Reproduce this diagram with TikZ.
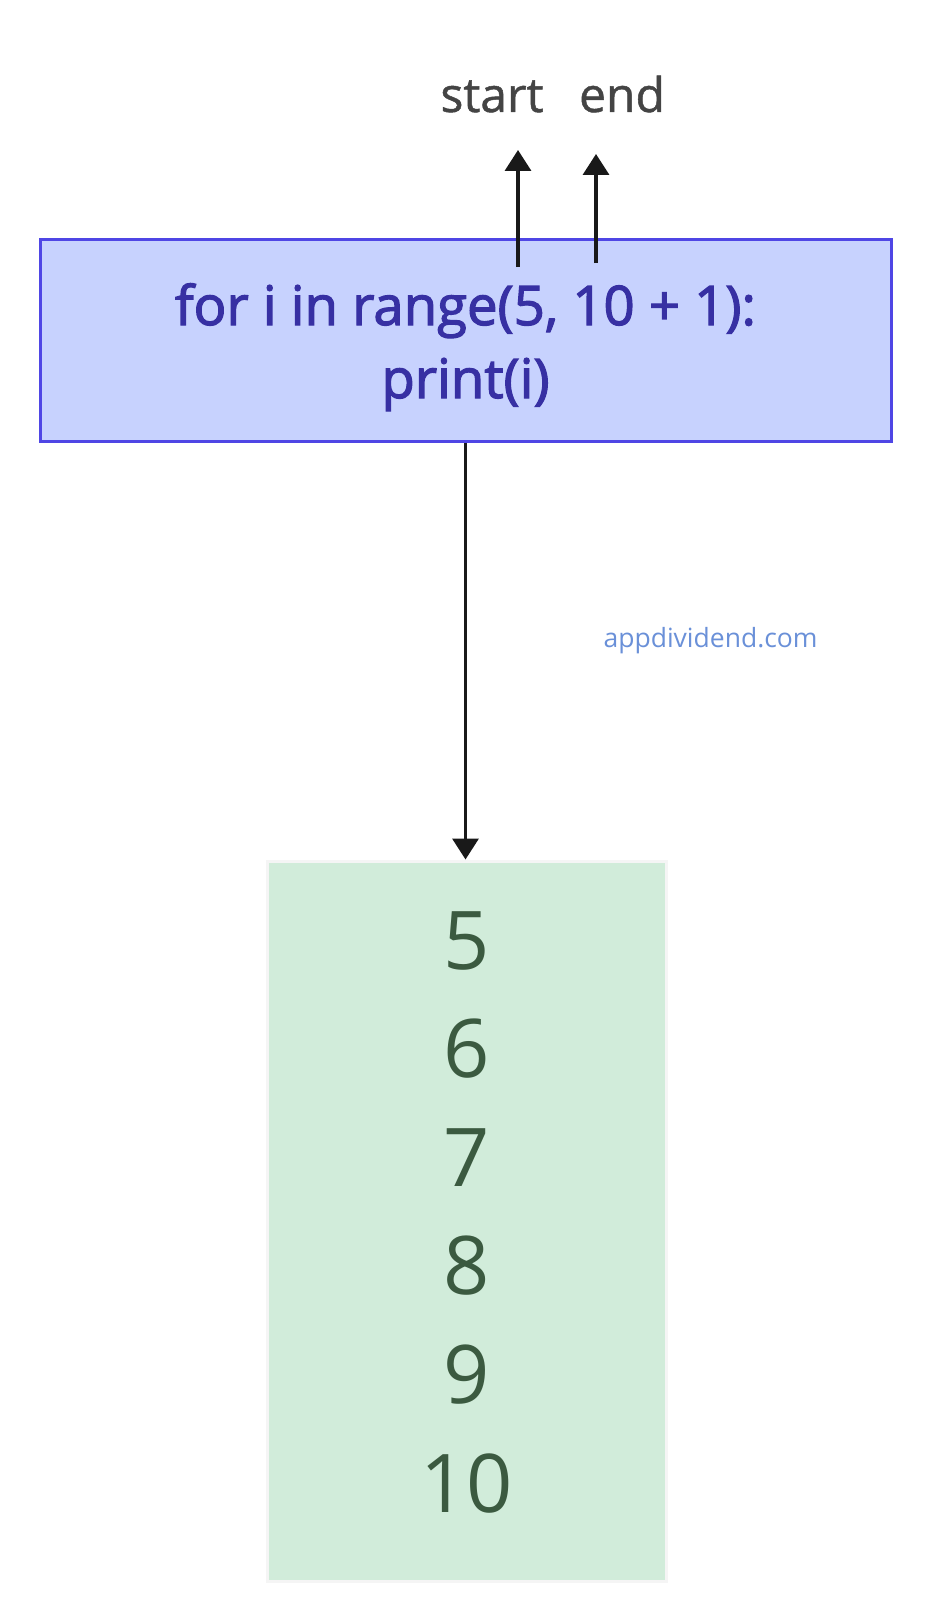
\documentclass[tikz,border=0pt]{standalone}
\usepackage{fontspec}
\setmainfont{Open Sans}
\newfontfamily\loopfont[BoldFont={Open Sans},BoldFeatures={FakeBold=2.2}]{Open Sans}
\newfontfamily\tagfont[BoldFont={Open Sans},BoldFeatures={FakeBold=1}]{Open Sans}
\usepackage{tikz}
\usetikzlibrary{arrows.meta,calc}

\definecolor{loopfill}{HTML}{C7D2FE}
\definecolor{loopdraw}{HTML}{4F46E5}
\definecolor{looptext}{HTML}{3730A3}
\definecolor{outfill}{HTML}{D1ECDA}
\definecolor{outtext}{HTML}{3B5A40}
\definecolor{tagtext}{HTML}{444444}
\definecolor{marktext}{HTML}{6A90D8}

\begin{document}
\begin{tikzpicture}[x=1pt,y=-1pt,>={Triangle[width=26pt,length=21pt]}]
			\useasboundingbox (0,0) rectangle (931,1621);
			\node[draw=loopdraw, fill=loopfill, line width=3pt, minimum width=851pt, minimum height=201pt] (Loop) at (465.5,340.5) {};
			\node[draw=black!4, fill=outfill, line width=3pt, minimum width=399pt, minimum height=720pt] (Out) at (466.5,1221) {};
			\node[anchor=base, text=looptext, font=\loopfont\bfseries\fontsize{54.5}{62}\selectfont] (Line1) at (465.5,325) {for i in range(5, 10 + 1):};
			\node[anchor=base, text=looptext, font=\loopfont\bfseries\fontsize{54.5}{62}\selectfont] (Line2) at (465.5,398) {print(i)};
			\node[anchor=base, text=tagtext, font=\tagfont\bfseries\fontsize{48}{58}\selectfont] (Start) at (492,112) {start};
			\node[anchor=base, text=tagtext, font=\tagfont\bfseries\fontsize{48}{58}\selectfont] (End) at (622,112) {end};
			\node[anchor=base west, text=marktext, font=\fontsize{26.5}{30}\selectfont] (Mark) at (600,647) {appdividend.com};
            \node[anchor=base, text=outtext, font=\fontsize{81}{100}\selectfont] (N5) at (466.5,969) {5};
            \node[anchor=base, text=outtext, font=\fontsize{81}{100}\selectfont] (N6) at (466.5,1077.6) {6};
            \node[anchor=base, text=outtext, font=\fontsize{81}{100}\selectfont] (N7) at (466.5,1186.2) {7};
            \node[anchor=base, text=outtext, font=\fontsize{81}{100}\selectfont] (N8) at (466.5,1294.8) {8};
            \node[anchor=base, text=outtext, font=\fontsize{81}{100}\selectfont] (N9) at (466.5,1403.4) {9};
            \node[anchor=base, text=outtext, font=\fontsize{81}{100}\selectfont] (N10) at (466.5,1512) {10};
			\coordinate (StartFoot) at (518,267);
			\coordinate (StartTip) at (518,150);
			\coordinate (EndFoot) at (596,263);
			\coordinate (EndTip) at (596,154);
			\draw[->, line width=3.5pt, black!90] (StartFoot) -- (StartTip);
			\draw[->, line width=3.5pt, black!90] (EndFoot) -- (EndTip);
			\draw[->, line width=3.5pt, black!90] (Loop.south) -- (Loop.south |- Out.north);
        \end{tikzpicture}
\end{document}
